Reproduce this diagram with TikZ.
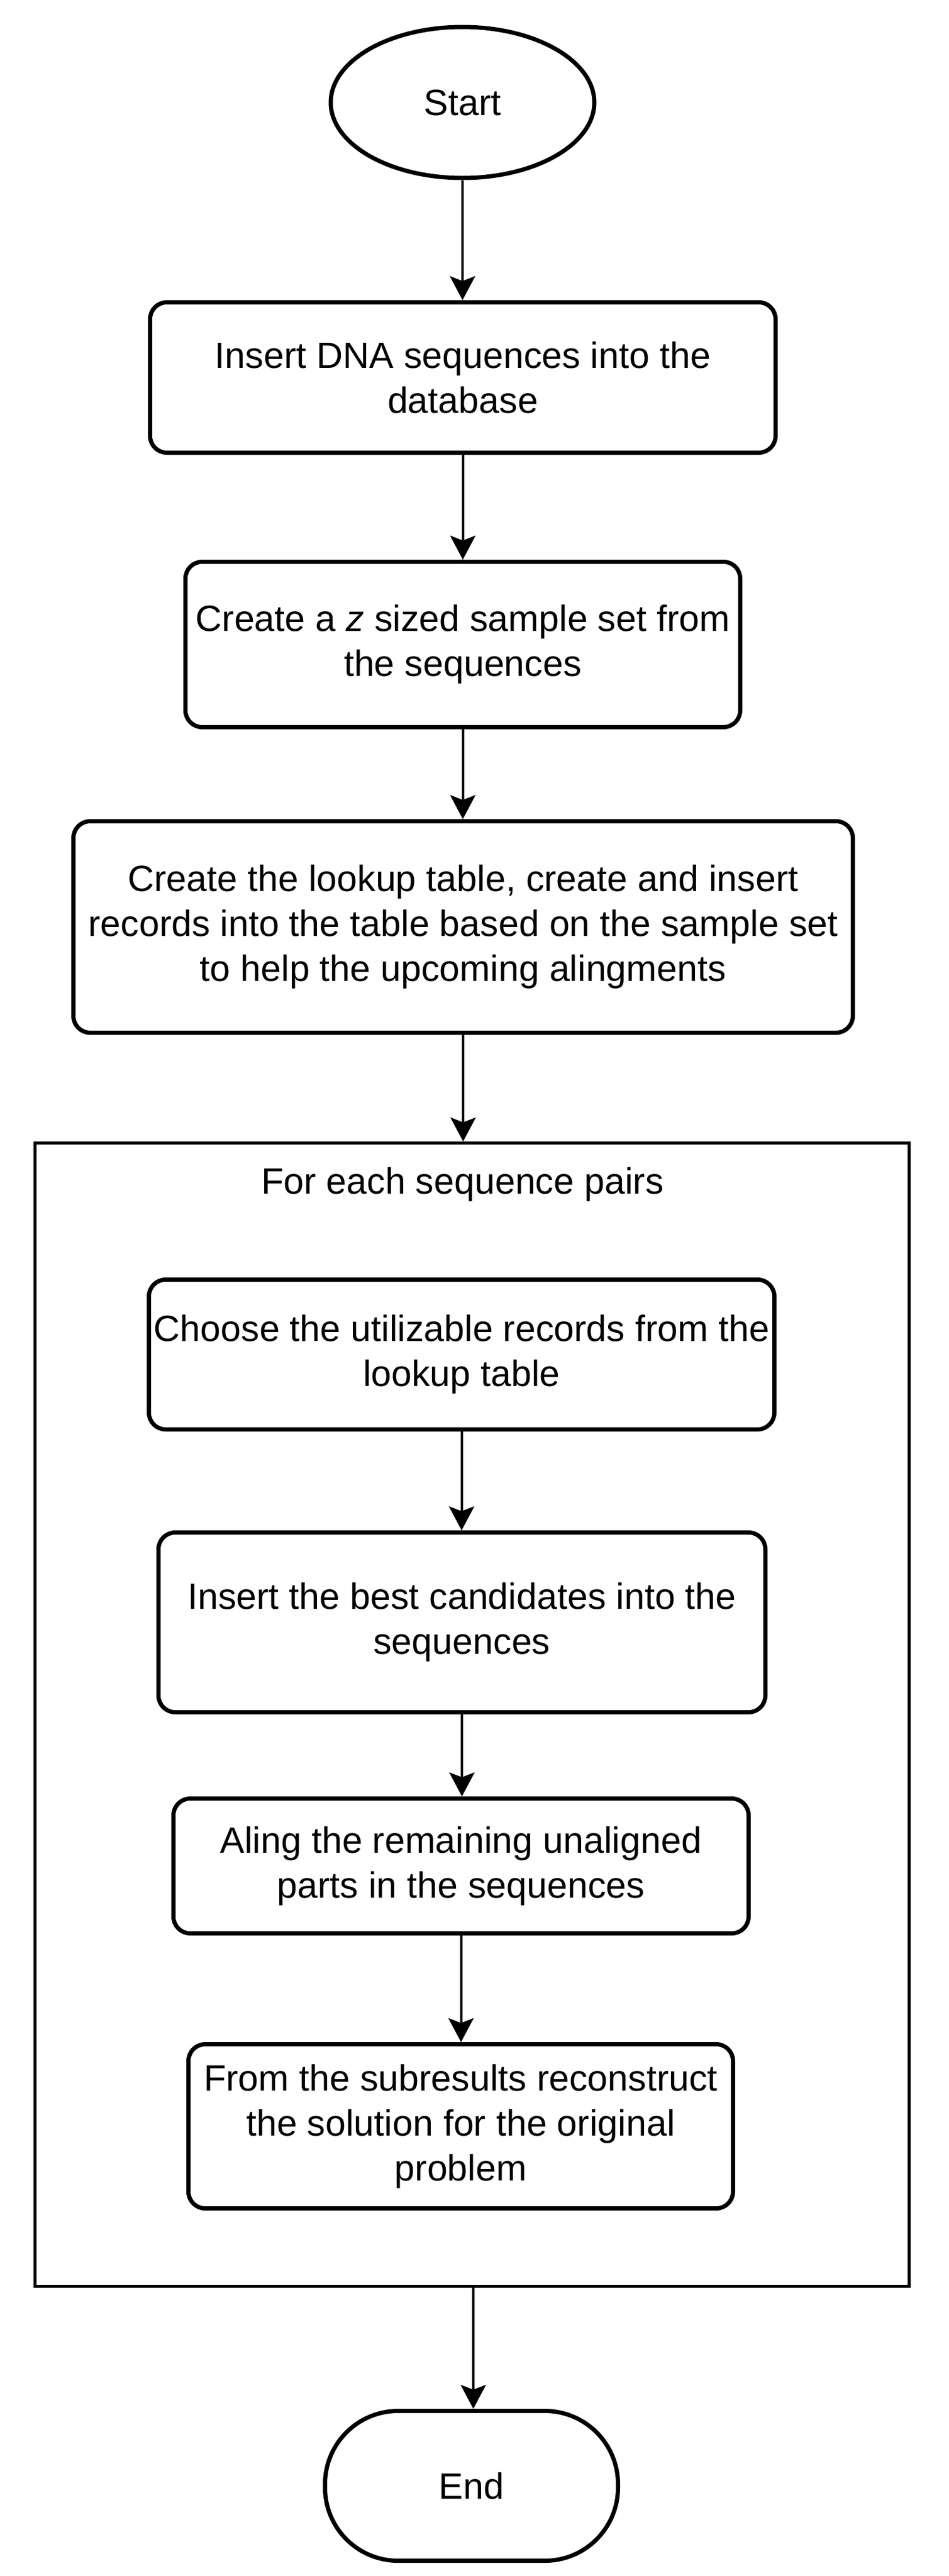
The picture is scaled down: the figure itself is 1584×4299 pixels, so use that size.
\documentclass[tikz,border=0pt]{standalone}
\usepackage{fontspec}
\setmainfont{Liberation Sans}
\usetikzlibrary{shapes.geometric,arrows.meta}
\begin{document}
\begin{tikzpicture}[x=0.5pt,y=-0.5pt,
  txt/.style={font=\fontsize{30.5}{37.5}\selectfont, align=center, text=black},
  proc/.style={txt, draw=black, line width=3.5pt, rounded corners=14pt, inner sep=0pt},
  termell/.style={txt, ellipse, draw=black, line width=3.5pt, inner sep=0pt},
  termend/.style={txt, draw=black, line width=3.5pt, rounded corners=61pt, inner sep=0pt},
  loopbox/.style={draw=black, line width=2.5pt, inner sep=0pt},
  flow/.style={draw=black, line width=2pt, -{Stealth[length=20pt,width=21pt,inset=4pt]}}
]
\fill[white] (0,0) rectangle (1584,4299);
\useasboundingbox (0,0) rectangle (1584,4299);

\node[loopbox, minimum width=729.5pt, minimum height=954pt] (cont) at (788,2861.5) {};
\node[txt] (contlabel) at (772,1977) {For each sequence pairs};

\node[termell, minimum width=220pt, minimum height=126pt] (start) at (772,171) {Start};
\node[proc, minimum width=522pt, minimum height=125.5pt] (b1) at (772.5,630) {Insert DNA sequences into the\\database};
\node[proc, minimum width=463pt, minimum height=138pt] (b2) at (772.5,1075.5) {Create a \textit{z} sized sample set from\\the sequences};
\node[proc, minimum width=650.5pt, minimum height=176.5pt] (b3) at (773,1547) {Create the lookup table, create and insert\\records into the table based on the sample set\\to help the upcoming alingments};

\node[proc, minimum width=522pt, minimum height=125pt] (b4) at (770.5,2260.5) {Choose the utilizable records from the\\lookup table};
\node[proc, minimum width=506.5pt, minimum height=150pt] (b5) at (771,2707.5) {Insert the best candidates into the\\sequences};
\node[proc, minimum width=480pt, minimum height=112.5pt] (b6) at (769.5,3114) {Aling the remaining unaligned\\parts in the sequences};
\node[proc, minimum width=454.5pt, minimum height=137pt] (b7) at (769,3548.5) {From the subresults reconstruct\\the solution for the original\\problem};

\node[termend, minimum width=244.5pt, minimum height=125pt] (end) at (787,4148.5) {End};

\draw[flow] (start.south) -- (start.south |- b1.north);
\draw[flow] (b1.south) -- (b1.south |- b2.north);
\draw[flow] (b2.south) -- (b2.south |- b3.north);
\draw[flow] (b3.south) -- (b3.south |- cont.north);
\draw[flow] (b4.south) -- (b4.south |- b5.north);
\draw[flow] (b5.south) -- (b5.south |- b6.north);
\draw[flow] (b6.south) -- (b6.south |- b7.north);
\draw[flow] ([xshift=1.5pt]end.north |- cont.south) -- ([xshift=1.5pt]end.north);
\end{tikzpicture}
\end{document}
